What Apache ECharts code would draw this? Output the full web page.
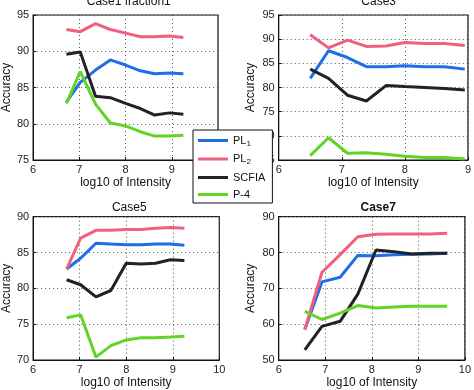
<!DOCTYPE html>
<html><head><meta charset="utf-8">
<script src="https://cdn.jsdelivr.net/npm/echarts@6/dist/echarts.min.js"></script>
<style>html,body{margin:0;padding:0;background:#fff}#c{width:474px;height:390px}</style>
</head><body><div id="c"></div>
<script>
// Case1 fraction1
const x1 = [6.72, 7.02, 7.35, 7.67, 8.0, 8.32, 8.63, 8.95, 9.25];
const c1_PL1 = [83.0, 85.7, 87.4, 88.8, 88.1, 87.3, 86.9, 87.0, 86.9];
const c1_PL2 = [93.0, 92.7, 93.8, 93.0, 92.5, 92.0, 92.0, 92.1, 91.9];
const c1_SCFIA = [89.6, 89.9, 83.8, 83.6, 82.8, 82.1, 81.2, 81.5, 81.3];
const c1_P4 = [82.8, 87.2, 82.7, 80.1, 79.7, 78.9, 78.3, 78.3, 78.4];
// Case3
const x3 = [6.5, 6.79, 7.09, 7.39, 7.7, 8.0, 8.32, 8.63, 8.95];
const c3_PL1 = [81.9, 87.6, 86.2, 84.3, 84.3, 84.5, 84.3, 84.3, 83.8];
const c3_PL2 = [90.9, 88.2, 89.8, 88.5, 88.6, 89.3, 89.1, 89.1, 88.7];
const c3_SCFIA = [83.8, 81.9, 78.4, 77.2, 80.4, 80.2, 80.0, 79.8, 79.5];
const c3_P4 = [65.9, 69.6, 66.4, 66.5, 66.2, 65.8, 65.5, 65.5, 65.2];
// Case5
const x5 = [6.72, 7.02, 7.35, 7.67, 8.0, 8.32, 8.63, 8.95, 9.25];
const c5_PL1 = [82.7, 84.2, 86.3, 86.2, 86.1, 86.1, 86.2, 86.2, 86.0];
const c5_PL2 = [82.7, 87.0, 88.1, 88.1, 88.2, 88.2, 88.4, 88.5, 88.4];
const c5_SCFIA = [81.2, 80.5, 78.8, 79.7, 83.5, 83.4, 83.5, 84.0, 83.9];
const c5_P4 = [75.9, 76.3, 70.4, 72.0, 72.8, 73.1, 73.1, 73.2, 73.3];
// Case7
const x7 = [6.56, 6.93, 7.32, 7.7, 8.09, 8.48, 8.86, 9.25, 9.62];
const c7_PL1 = [58.5, 71.8, 73.1, 79.2, 79.1, 79.4, 79.5, 79.6, 79.8];
const c7_PL2 = [58.5, 74.5, 79.4, 84.4, 85.1, 85.2, 85.2, 85.2, 85.4];
const c7_SCFIA = [52.8, 59.4, 60.8, 68.4, 80.7, 80.2, 79.6, 79.8, 79.8];
const c7_P4 = [63.6, 61.3, 63.1, 65.2, 64.5, 64.8, 65.0, 65.0, 65.0];

const titles = ['Case1 fraction1', 'Case3', 'Case5', 'Case7'];
const names = ['PL1', 'PL2', 'SCFIA', 'P-4'];
const colors = ['#1f6de8', '#f0607e', '#222222', '#62d424'];

const cases = [
  {x: x1, s: [c1_PL1, c1_PL2, c1_SCFIA, c1_P4], xr: [6, 10], yr: [75, 95], yi: 5},
  {x: x3, s: [c3_PL1, c3_PL2, c3_SCFIA, c3_P4], xr: [6, 9], yr: [65, 95], yi: 5},
  {x: x5, s: [c5_PL1, c5_PL2, c5_SCFIA, c5_P4], xr: [6, 10], yr: [70, 90], yi: 5},
  {x: x7, s: [c7_PL1, c7_PL2, c7_SCFIA, c7_P4], xr: [6, 10], yr: [50, 90], yi: 10}
];
const grids = [
  {left: 29.5, top: 15, width: 188.5, height: 145},
  {left: 278.7, top: 15, width: 190, height: 145},
  {left: 29.3, top: 216.7, width: 190, height: 144},
  {left: 278.7, top: 216.7, width: 189, height: 144}
];
const font = 'Liberation Sans, Arial, sans-serif';
const splitStyle = {show: true, lineStyle: {color: '#555', type: [1, 3], width: 1}};

const option = {
  animation: false,
  backgroundColor: '#fff',
  title: titles.map((t, i) => ({
    text: t,
    left: grids[i].left + grids[i].width / 2,
    textAlign: 'center',
    top: i < 2 ? -9 : 197,
    textStyle: {fontFamily: font, fontSize: 12, fontWeight: i === 3 ? 'bold' : 'normal', color: '#111'}
  })),
  grid: grids.map(g => Object.assign({show: true, borderColor: '#111', borderWidth: 1.2, backgroundColor: 'transparent'}, g)),
  xAxis: cases.map((c, i) => ({
    type: 'value', gridIndex: i, min: c.xr[0], max: c.xr[1], interval: 1,
    name: 'log10 of Intensity', nameLocation: 'middle', nameGap: 17,
    nameTextStyle: {fontFamily: font, fontSize: 12, color: '#111'},
    axisLine: {show: true, lineStyle: {color: '#111'}},
    axisTick: {show: true, inside: true, length: 3, lineStyle: {color: '#111'}},
    axisLabel: {fontFamily: font, fontSize: 11, color: '#222', margin: 4},
    splitLine: splitStyle
  })),
  yAxis: cases.map((c, i) => ({
    type: 'value', gridIndex: i, min: c.yr[0], max: c.yr[1], interval: c.yi,
    name: 'Accuracy', nameLocation: 'middle', nameGap: i % 2 === 0 ? 20 : 22,
    nameTextStyle: {fontFamily: font, fontSize: 12, color: '#111'},
    axisLine: {show: true, lineStyle: {color: '#111'}},
    axisTick: {show: true, inside: true, length: 3, lineStyle: {color: '#111'}},
    axisLabel: {fontFamily: font, fontSize: 11, color: '#222', margin: 4},
    splitLine: splitStyle
  })),
  legend: {
    orient: 'vertical', left: 193, top: 130,
    backgroundColor: '#fff', borderColor: '#111', borderWidth: 1,
    padding: [5, 7, 3, 5], itemGap: 6, itemWidth: 30, itemHeight: 3,
    icon: 'rect', z: 20,
    data: names,
    formatter: function (n) {
      if (n === 'PL1') return '{a|PL}{s|1}';
      if (n === 'PL2') return '{a|PL}{s|2}';
      return '{a|' + n + '}';
    },
    textStyle: {
      fontFamily: font, fontSize: 11, color: '#111',
      rich: {a: {fontFamily: font, fontSize: 11, color: '#111'},
             s: {fontFamily: font, fontSize: 8, color: '#111', verticalAlign: 'bottom', padding: [6, 0, 0, 0]}}
    }
  },
  series: []
};
cases.forEach((c, i) => {
  c.s.forEach((vals, k) => {
    option.series.push({
      type: 'line', name: names[k], xAxisIndex: i, yAxisIndex: i,
      data: c.x.map((xv, j) => [xv, vals[j]]),
      showSymbol: false, symbol: 'none',
      lineStyle: {width: 3, color: colors[k]}, itemStyle: {color: colors[k]},
      z: 5
    });
  });
});
const chart = echarts.init(document.getElementById('c'), null, {renderer: 'canvas'});
chart.setOption(option);
</script></body></html>
